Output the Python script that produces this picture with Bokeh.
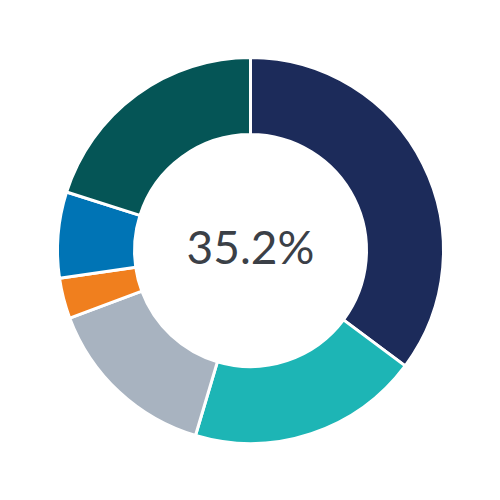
import math
from bokeh.plotting import figure
from bokeh.models import ColumnDataSource, Range1d
from bokeh.core.properties import value
from bokeh.embed import file_html
from bokeh.resources import INLINE

categories = ["A", "B", "C", "D", "E", "F"]
shares = [35.2, 19.4, 14.7, 3.4, 7.2, 20.1]
colors = ["#1c2b5a", "#1db5b5", "#a8b3c0", "#f07f1e", "#0074b5", "#055556"]
center_label = "35.2%"

total = sum(shares)
starts, ends = [], []
acc = 0.0
for s in shares:
    starts.append(math.pi / 2 - acc / total * 2 * math.pi)
    acc += s
    ends.append(math.pi / 2 - acc / total * 2 * math.pi)

src = ColumnDataSource(dict(cat=categories, val=shares, color=colors, start=starts, end=ends))

p = figure(width=484, height=484, output_backend="svg", toolbar_location=None,
           x_range=Range1d(-250, 234), y_range=Range1d(-234, 250), min_border=0)
p.axis.visible = False
p.grid.visible = False
p.outline_line_color = None
p.background_fill_color = "white"

p.annular_wedge(x=0, y=0, inner_radius=116, outer_radius=193, start_angle="start", end_angle="end",
                direction="clock", fill_color="color", line_color="white", line_width=3, source=src)

p.text(x=[0], y=[4], text=[center_label], text_align="center", text_baseline="middle",
       text_font=value("Lato"), text_font_size="46px", text_color="#3b4047")

open("out.html", "w").write(file_html(p, INLINE))
